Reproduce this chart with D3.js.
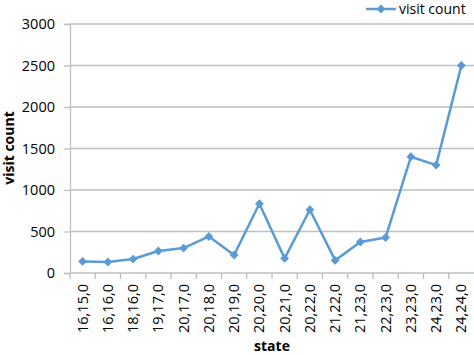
<!DOCTYPE html>
<html>
<head>
<meta charset="utf-8">
<script src="https://cdn.jsdelivr.net/npm/d3@7"></script>
<style>
  body { margin: 0; background: #fff; }
  svg text { font-family: "Open Sans", "Noto Sans", sans-serif; fill: #000; }
</style>
</head>
<body>
<svg id="chart" width="474" height="355"></svg>
<script>
// data
const states = ["16,15,0", "16,16,0", "18,16,0", "19,17,0", "20,17,0", "20,18,0",
    "20,19,0", "20,20,0", "20,21,0", "20,22,0", "21,22,0", "21,23,0",
    "22,23,0", "23,23,0", "24,23,0", "24,24,0"];
const visitCounts = [140, 132, 168, 265, 300, 440, 217, 834, 176, 762, 152, 373,
    428, 1400, 1300, 2500];
const yTicks = [0, 500, 1000, 1500, 2000, 2500, 3000];

const svg = d3.select("svg#chart");
const bounds = { minX: 70, maxX: 474, minY: 24, maxY: 273 };
const blue = "#5b9bd5";

const scaleX = d3.scaleBand().domain(states).range([bounds.minX, bounds.maxX]);
const scaleY = d3.scaleLinear().domain([0, 3000]).range([bounds.maxY, bounds.minY]);

// gridlines
svg.append("g")
    .selectAll("line")
    .data(yTicks.filter(d => d > 0))
    .join("line")
    .attr("x1", bounds.minX).attr("x2", bounds.maxX)
    .attr("y1", d => scaleY(d)).attr("y2", d => scaleY(d))
    .attr("stroke", "#bfbfbf").attr("stroke-width", 1.3);

// y axis
const yAxisG = svg.append("g")
    .attr("transform", `translate(${bounds.minX} 0)`)
    .call(d3.axisLeft(scaleY).tickValues(yTicks).tickFormat(d3.format("d"))
        .tickSize(6).tickPadding(9));
yAxisG.select(".domain").attr("stroke", "#bfbfbf").attr("stroke-width", 1.3);
yAxisG.selectAll(".tick line").attr("stroke", "#bfbfbf").attr("stroke-width", 1.3);
yAxisG.selectAll(".tick text").attr("font-size", 14.5).attr("font-family", "Open Sans");

// x axis: ticks at band edges
const xAxisG = svg.append("g").attr("transform", `translate(0 ${bounds.maxY})`);
xAxisG.append("line")
    .attr("x1", bounds.minX).attr("x2", bounds.maxX)
    .attr("stroke", "#bfbfbf").attr("stroke-width", 1.3);
xAxisG.selectAll("line.tick")
    .data(states)
    .join("line")
    .attr("class", "tick")
    .attr("x1", d => scaleX(d)).attr("x2", d => scaleX(d))
    .attr("y1", 0).attr("y2", 6)
    .attr("stroke", "#bfbfbf").attr("stroke-width", 1.3);
xAxisG.selectAll("text")
    .data(states)
    .join("text")
    .attr("transform", d => `translate(${scaleX(d) + scaleX.bandwidth() / 2 + 5} 11) rotate(-90)`)
    .attr("text-anchor", "end")
    .attr("font-size", 14.5)
    .text(d => d);

// axis titles
svg.append("text")
    .attr("transform", `translate(14 148) rotate(-90)`)
    .attr("text-anchor", "middle")
    .attr("font-size", 14).attr("font-weight", "bold")
    .text("visit count");
svg.append("text")
    .attr("x", 272).attr("y", 351)
    .attr("text-anchor", "middle")
    .attr("font-size", 14).attr("font-weight", "bold")
    .text("state");

// line + diamond markers
const cx = d => scaleX(d) + scaleX.bandwidth() / 2;
const line = d3.line().x((d, i) => cx(states[i])).y(d => scaleY(d));
svg.append("path")
    .datum(visitCounts)
    .attr("d", line)
    .attr("fill", "none")
    .attr("stroke", blue)
    .attr("stroke-width", 2.5)
    .attr("stroke-linejoin", "round");

const diamond = d3.symbol().type(d3.symbolDiamond2).size(50);
svg.append("g")
    .selectAll("path")
    .data(visitCounts)
    .join("path")
    .attr("transform", (d, i) => `translate(${cx(states[i])} ${scaleY(d)})`)
    .attr("d", diamond)
    .attr("fill", blue);

// legend
const legend = svg.append("g").attr("transform", "translate(366 9)");
legend.append("line").attr("x1", 0).attr("x2", 30)
    .attr("stroke", blue).attr("stroke-width", 2.5);
legend.append("path").attr("transform", "translate(15 0)")
    .attr("d", diamond).attr("fill", blue);
legend.append("text").attr("x", 33).attr("y", 5)
    .attr("font-size", 14).text("visit count");
</script>
</body>
</html>
